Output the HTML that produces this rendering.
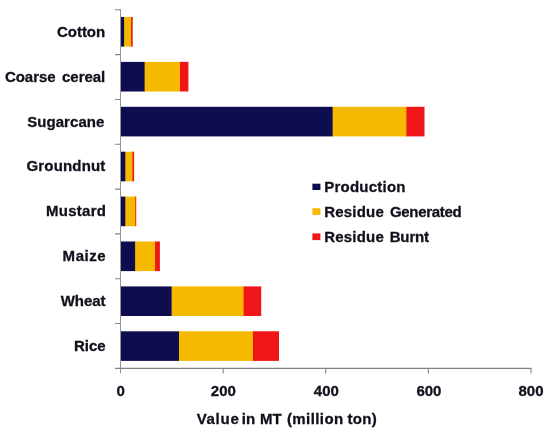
<!DOCTYPE html><html><head><meta charset="utf-8"><title>Crop residue chart</title><style>html,body{margin:0;padding:0;background:#fff}svg{display:block}text{font-family:"Liberation Sans",Arial,sans-serif;font-weight:bold;font-size:15px;fill:#14101c;stroke:#14101c;stroke-width:0.3px}</style></head><body>
<svg width="550" height="434" viewBox="0 0 550 434">
<defs><filter id="b" filterUnits="userSpaceOnUse" x="0" y="0" width="550" height="434"><feGaussianBlur stdDeviation="0.5"/></filter></defs>
<rect width="550" height="434" fill="#fff"/>
<g stroke="#858585" stroke-width="1.1" fill="none">
<path stroke="#959595" stroke-width="1" d="M120.50 9.3 V373.40"/><path stroke="#808080" stroke-width="1.3" d="M115.10 368.40 H531.5"/>
<path d="M115.1 9.80 H120.50 M115.1 54.62 H120.50 M115.1 99.45 H120.50 M115.1 144.28 H120.50 M115.1 189.10 H120.50 M115.1 233.92 H120.50 M115.1 278.75 H120.50 M115.1 323.57 H120.50 M223.12 368.40 V373.40 M325.75 368.40 V373.40 M428.38 368.40 V373.40 M531.00 368.40 V373.40 "/>
</g>
<g filter="url(#b)">
<rect x="130.50" y="17.00" width="2.20" height="29.60" fill="#ee1414"/>
<rect x="123.50" y="17.00" width="7.60" height="29.60" fill="#f5b904"/>
<rect x="121.00" y="17.00" width="3.10" height="29.60" fill="#0d0c50"/>
<rect x="179.40" y="61.90" width="9.00" height="29.60" fill="#ee1414"/>
<rect x="144.00" y="61.90" width="36.00" height="29.60" fill="#f5b904"/>
<rect x="121.00" y="61.90" width="23.60" height="29.60" fill="#0d0c50"/>
<rect x="405.80" y="106.80" width="18.70" height="29.60" fill="#ee1414"/>
<rect x="332.00" y="106.80" width="74.40" height="29.60" fill="#f5b904"/>
<rect x="121.00" y="106.80" width="211.60" height="29.60" fill="#0d0c50"/>
<rect x="131.90" y="151.70" width="2.20" height="29.60" fill="#ee1414"/>
<rect x="124.70" y="151.70" width="7.80" height="29.60" fill="#f5b904"/>
<rect x="121.00" y="151.70" width="4.30" height="29.60" fill="#0d0c50"/>
<rect x="134.70" y="196.60" width="1.50" height="29.60" fill="#ee1414"/>
<rect x="124.70" y="196.60" width="10.60" height="29.60" fill="#f5b904"/>
<rect x="121.00" y="196.60" width="4.30" height="29.60" fill="#0d0c50"/>
<rect x="154.50" y="241.50" width="5.40" height="29.60" fill="#ee1414"/>
<rect x="134.50" y="241.50" width="20.60" height="29.60" fill="#f5b904"/>
<rect x="121.00" y="241.50" width="14.10" height="29.60" fill="#0d0c50"/>
<rect x="243.00" y="286.40" width="18.20" height="29.60" fill="#ee1414"/>
<rect x="171.00" y="286.40" width="72.60" height="29.60" fill="#f5b904"/>
<rect x="121.00" y="286.40" width="50.60" height="29.60" fill="#0d0c50"/>
<rect x="252.40" y="331.30" width="26.60" height="29.60" fill="#ee1414"/>
<rect x="178.40" y="331.30" width="74.60" height="29.60" fill="#f5b904"/>
<rect x="121.00" y="331.30" width="58.00" height="29.60" fill="#0d0c50"/>
<text y="37"><tspan x="57.09" style="letter-spacing:-0.05px">Cotton</tspan></text>
<text y="82"><tspan x="4.91" style="letter-spacing:-0.015px">Coarse </tspan><tspan x="62.08" style="letter-spacing:-0.058px">cereal</tspan></text>
<text y="127"><tspan x="27.15" style="letter-spacing:0.075px">Sugarcane</tspan></text>
<text y="171.4"><tspan x="26.49" style="letter-spacing:0.174px">Groundnut</tspan></text>
<text y="216"><tspan x="45.97" style="letter-spacing:0.277px">Mustard</tspan></text>
<text y="261"><tspan x="62.59" style="letter-spacing:0.559px">Maize</tspan></text>
<text y="306"><tspan x="60.63" style="letter-spacing:-0.034px">Wheat</tspan></text>
<text y="351"><tspan x="73.89" style="letter-spacing:0.047px">Rice</tspan></text>
<text x="116.46" y="396">0</text>
<text x="210.85" y="396">200</text>
<text x="313.83" y="396">400</text>
<text x="416.43" y="396">600</text>
<text x="518.47" y="396">800</text>
<text y="424"><tspan x="196.64" style="letter-spacing:0.726px">Value </tspan><tspan x="241.82" style="letter-spacing:0px">in </tspan><tspan x="259.99" style="letter-spacing:0px">MT </tspan><tspan x="286.94" style="letter-spacing:0.409px">(million </tspan><tspan x="347.41" style="letter-spacing:0.317px">ton)</tspan></text>
<rect x="312.4" y="183.70" width="8.0" height="6.30" fill="#0d0c50"/>
<text y="192"><tspan x="324.24" style="letter-spacing:0.227px">Production</tspan></text>
<rect x="312.4" y="208.20" width="8.0" height="6.70" fill="#f5b904"/>
<text y="217"><tspan x="324.24" style="letter-spacing:0.206px">Residue </tspan><tspan x="390.03" style="letter-spacing:-0.327px">Generated</tspan></text>
<rect x="312.4" y="233.40" width="8.0" height="6.70" fill="#ee1414"/>
<text y="242"><tspan x="324.24" style="letter-spacing:0.206px">Residue </tspan><tspan x="389.66" style="letter-spacing:-0.135px">Burnt</tspan></text>
</g>
</svg></body></html>
